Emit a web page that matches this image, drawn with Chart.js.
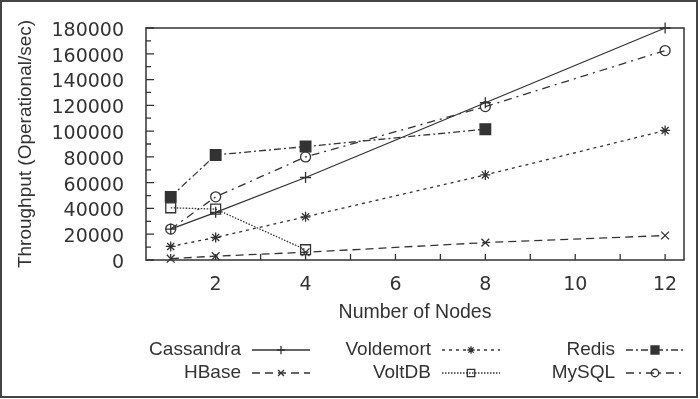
<!DOCTYPE html>
<html>
<head>
<meta charset="utf-8">
<script src="https://cdn.jsdelivr.net/npm/chart.js@4/dist/chart.umd.min.js"></script>
<style>
  html, body { margin: 0; padding: 0; background: #fff; }
</style>
</head>
<body>
<canvas id="chart" width="700" height="399"></canvas>
<script>
'use strict'

// values
const nodes = [1, 2, 4, 8, 12];
const cassandra = [24000, 37000, 64000, 122000, 180000];
const hbase = [1000, 3000, 6000, 13500, 19000];
const voldemort = [10500, 17500, 33500, 66000, 100500];
const voltdb = [40500, 39500, 8000];
const redis = [49000, 81500, 88000, 101500];
const mysql = [24000, 49000, 80000, 119000, 162500];

const seriesNames = ['Cassandra', 'HBase', 'Voldemort', 'VoltDB', 'Redis', 'MySQL'];
const xTickLabels = ['2', '4', '6', '8', '10', '12'];
const yTickLabels = ['0', '20000', '40000', '60000', '80000', '100000', '120000', '140000', '160000', '180000'];

const ink = '#333';
const textFont = 'Liberation Sans';
const tickFont = 'DejaVu Sans';

const toPoints = vals => vals.map((v, i) => ({x: nodes[i], y: v}));

function series(name, vals, dash, style, radius, filled) {
  return {
    label: name,
    data: toPoints(vals),
    borderColor: ink,
    borderWidth: 1.3,
    borderDash: dash,
    pointStyle: style,
    pointRadius: radius,
    pointBorderWidth: 1.3,
    pointBorderColor: ink,
    pointBackgroundColor: filled ? ink : 'rgba(0,0,0,0)',
    showLine: true,
    fill: false,
    clip: false
  };
}

// inward ticks, plot box, gnuplot-like legend and the outer frame
const frame = {
  id: 'frame',
  afterDraw(chart) {
    const {ctx, chartArea: a, scales: {x, y}} = chart;
    ctx.save();
    ctx.strokeStyle = ink;
    ctx.lineWidth = 1.3;
    ctx.setLineDash([]);
    ctx.beginPath();
    x.ticks.forEach(t => {
      const px = x.getPixelForValue(t.value);
      ctx.moveTo(px, a.bottom);
      ctx.lineTo(px, a.bottom - 6);
    });
    y.ticks.forEach(t => {
      const py = y.getPixelForValue(t.value);
      const len = t.label ? 8 : 5;
      ctx.moveTo(a.left, py);
      ctx.lineTo(a.left + len, py);
    });
    ctx.stroke();
    ctx.lineWidth = 1.5;
    ctx.strokeRect(a.left, a.top, a.right - a.left, a.bottom - a.top);

    // legend: 3 columns x 2 rows, text right-aligned then sample
    const textRight = [241, 431, 615];
    const rowY = [350, 373];
    ctx.font = '19px "' + textFont + '"';
    ctx.textAlign = 'right';
    ctx.textBaseline = 'middle';
    chart.data.datasets.forEach((ds, i) => {
      const col = Math.floor(i / 2), row = i % 2;
      const tx = textRight[col], ty = rowY[row];
      ctx.fillStyle = ink;
      ctx.fillText(ds.label, tx, ty);
      const x0 = tx + 11, x1 = x0 + 58;
      ctx.strokeStyle = ink;
      ctx.lineWidth = ds.borderWidth;
      ctx.setLineDash(ds.borderDash);
      ctx.beginPath();
      ctx.moveTo(x0, ty);
      ctx.lineTo(x1, ty);
      ctx.stroke();
      ctx.setLineDash([]);
      ctx.fillStyle = ds.pointBackgroundColor;
      Chart.helpers.drawPoint(ctx, {
        pointStyle: ds.pointStyle,
        radius: ds.pointRadius * 0.75,
        rotation: 0,
        borderWidth: ds.pointBorderWidth
      }, (x0 + x1) / 2, ty);
    });

    ctx.setLineDash([]);
    ctx.lineWidth = 2;
    ctx.strokeStyle = '#444';
    ctx.strokeRect(1, 1, 696, 396);
    ctx.restore();
  }
};

const ctx = document.getElementById('chart');
new Chart(ctx, {
  type: 'scatter',
  data: {
    datasets: [
      series(seriesNames[0], cassandra, [], 'cross', 5.5, false),
      series(seriesNames[1], hbase, [8, 5], 'crossRot', 5.5, false),
      series(seriesNames[2], voldemort, [3, 4], 'star', 5, false),
      series(seriesNames[3], voltdb, [1.5, 1.5], 'rect', 7, false),
      series(seriesNames[4], redis, [7, 3, 2, 3], 'rect', 7.5, true),
      series(seriesNames[5], mysql, [8, 5, 2, 5], 'circle', 5, false)
    ]
  },
  options: {
    responsive: false,
    animation: false,
    devicePixelRatio: 1,
    layout: {
      padding: {left: 0, top: 28, right: 16, bottom: 75}
    },
    scales: {
      x: {
        type: 'linear',
        min: 0.45,
        max: 12.42,
        grid: {display: false},
        border: {display: false},
        afterBuildTicks: axis => {
          axis.ticks = [];
          for (let v = 1; v <= 12; v++) axis.ticks.push({value: v});
        },
        afterFit: scale => { scale.height = 64; },
        ticks: {
          autoSkip: false,
          maxRotation: 0,
          padding: 6,
          color: ink,
          font: {family: tickFont, size: 19},
          callback: v => xTickLabels.includes(String(v)) ? String(v) : ''
        },
        title: {
          display: true,
          text: 'Number of Nodes',
          color: ink,
          font: {family: textFont, size: 19.5},
          padding: {top: 0, bottom: 0}
        }
      },
      y: {
        min: 0,
        max: 180000,
        grid: {display: false},
        border: {display: false},
        afterFit: scale => { scale.width = 146; },
        ticks: {
          stepSize: 10000,
          autoSkip: false,
          padding: 14,
          labelOffset: 3,
          color: ink,
          font: {family: tickFont, size: 19},
          callback: v => yTickLabels.includes(String(v)) ? String(v) : ''
        },
        title: {
          display: true,
          text: 'Throughput (Operational/sec)',
          color: ink,
          font: {family: textFont, size: 19},
          padding: {top: 14, bottom: 4}
        }
      }
    },
    plugins: {
      legend: {display: false},
      tooltip: {enabled: false}
    }
  },
  plugins: [frame]
});
</script>
</body>
</html>
